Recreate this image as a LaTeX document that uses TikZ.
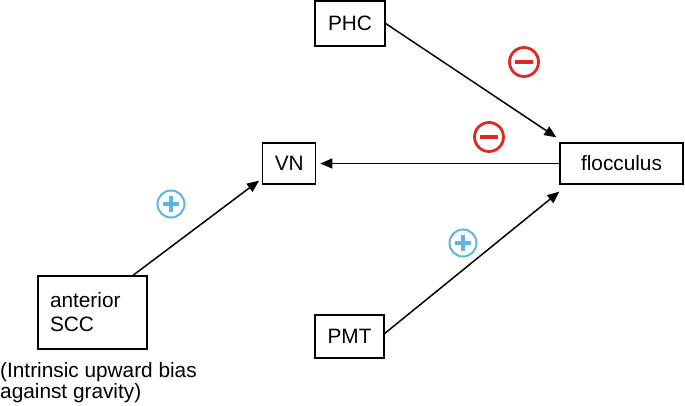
\documentclass[tikz,border=0pt]{standalone}
\usepackage{fontspec}
\setmainfont{Liberation Sans}
\usetikzlibrary{arrows.meta}
\definecolor{inhred}{RGB}{222,42,30}
\definecolor{excblue}{RGB}{92,182,226}
\begin{document}
\begin{tikzpicture}[x=1pt,y=-1pt,
  box/.style={draw,line width=1.3pt,inner sep=0pt,font=\fontsize{20.8}{24}\selectfont},
  conn/.style={line width=1.5pt,-{Triangle[length=12pt,width=10pt]}},
  minussign/.style={circle,draw=inhred,line width=2.8pt,minimum size=29pt,inner sep=0pt,
    path picture={\draw[inhred,line width=4pt] ([xshift=-9pt]path picture bounding box.center) -- ([xshift=9pt]path picture bounding box.center);}},
  plussign/.style={circle,draw=excblue,line width=2pt,minimum size=27pt,inner sep=0pt,
    path picture={\draw[excblue,line width=4pt] ([xshift=-8pt]path picture bounding box.center) -- ([xshift=8pt]path picture bounding box.center);
                  \draw[excblue,line width=4pt] ([yshift=-8pt]path picture bounding box.center) -- ([yshift=8pt]path picture bounding box.center);}}
]
\useasboundingbox (0,0) rectangle (685,405);
\node[box,minimum width=70pt,minimum height=45pt] (phc) at (350,23.5) {PHC};
\node[box,minimum width=53pt,minimum height=41pt] (vn) at (289.2,163.5) {VN};
\node[box,minimum width=123pt,minimum height=41pt] (floc) at (621.5,163.5) {flocculus};
\node[box,minimum width=69pt,minimum height=43pt] (pmt) at (349.5,336.5) {PMT};
\node[box,minimum height=73pt,text width=85pt,inner xsep=12pt,align=left] (scc) at (92.5,312.5) {anterior\\SCC};
\node[anchor=base west,inner sep=0pt,align=left,font=\fontsize{20.8}{21.5}\selectfont] (cap) at (0,398.5) {(Intrinsic upward bias\\against gravity)};

\draw[conn] (phc.east) -- ([shift={(-3,-5)}]floc.north west);
\draw[conn] (floc.west) -- ([xshift=4pt]vn.east);
\draw[conn] ([xshift=40.5pt]scc.north) -- ([shift={(-3,-4)}]vn.south west);
\draw[conn] ([yshift=3pt]pmt.east) -- ([shift={(0,7)}]floc.south west);

\node[minussign] (m1) at (524,62) {};
\node[minussign] (m2) at (489,137) {};
\node[plussign] (p1) at (171,204) {};
\node[plussign] (p2) at (463,243) {};
\end{tikzpicture}
\end{document}
